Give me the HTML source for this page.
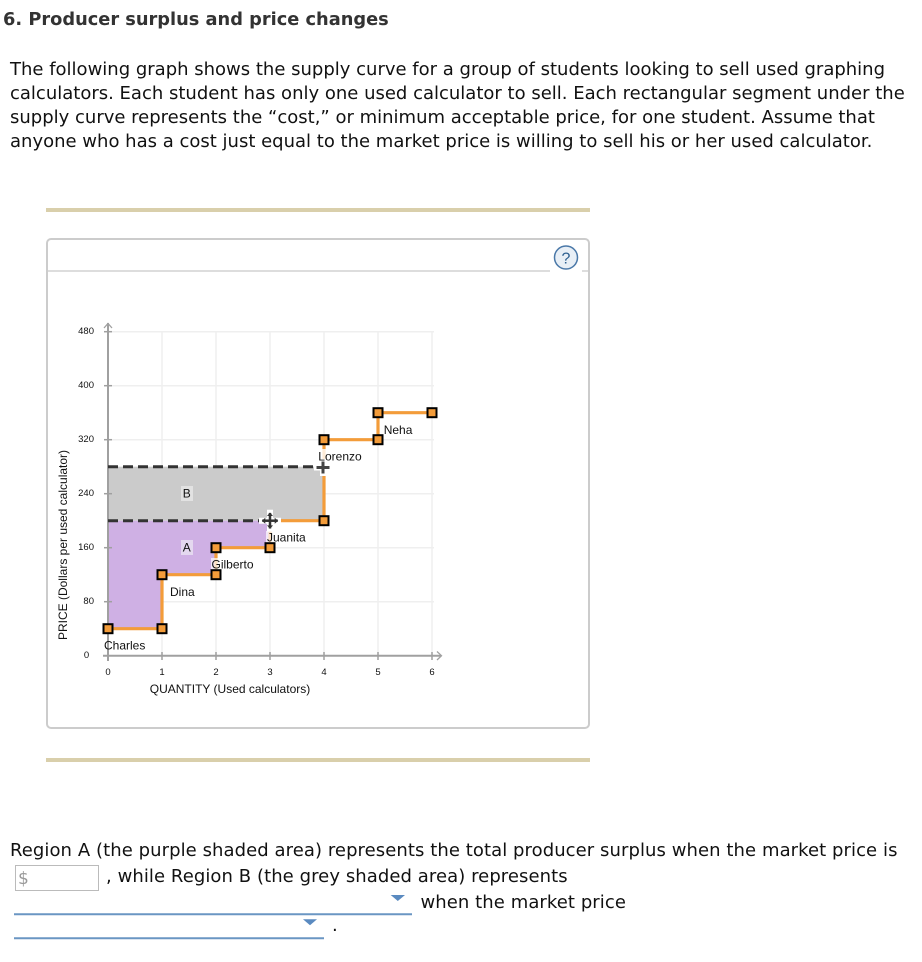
<!DOCTYPE html>
<html>
<head>
<meta charset="utf-8">
<style>
html,body{margin:0;padding:0;background:#fff;}
body{width:922px;height:962px;position:relative;overflow:hidden;font-family:"DejaVu Sans","Liberation Sans",sans-serif;color:#111;}
.t{position:absolute;white-space:nowrap;}
.title{left:3px;top:11px;font-size:17.8px;line-height:17.8px;font-weight:bold;color:#333;}
.p{left:10px;font-size:18px;line-height:24px;}
.q{letter-spacing:0.07px;}
svg{position:absolute;left:0;top:0;}
</style>
</head>
<body>
<div class="t title">6. Producer surplus and price changes</div>
<div class="t p" style="top:57.8px">The following graph shows the supply curve for a group of students looking to sell used graphing</div>
<div class="t p" style="top:81.8px">calculators. Each student has only one used calculator to sell. Each rectangular segment under the</div>
<div class="t p" style="top:105.8px">supply curve represents the “cost,” or minimum acceptable price, for one student. Assume that</div>
<div class="t p" style="top:129.8px">anyone who has a cost just equal to the market price is willing to sell his or her used calculator.</div>

<svg width="922" height="962" viewBox="0 0 922 962" xmlns="http://www.w3.org/2000/svg">
  <!-- tan bars -->
  <rect x="46" y="208" width="544" height="4" fill="#d9cfab"/>
  <rect x="46" y="758" width="544" height="4" fill="#d9cfab"/>
  <!-- panel -->
  <rect x="47" y="239" width="542" height="489" rx="4" ry="4" fill="#fff" stroke="#cccccc" stroke-width="2"/>
  <line x1="48" y1="271" x2="550" y2="271" stroke="#dddddd" stroke-width="2"/>
  <line x1="582" y1="271" x2="588" y2="271" stroke="#dddddd" stroke-width="2"/>
  <!-- help icon -->
  <circle cx="566" cy="257.5" r="11.5" fill="#e8eff6" stroke="#4a78a8" stroke-width="1.5"/>
  <text x="566" y="263.5" text-anchor="middle" font-family="Liberation Sans, sans-serif" font-size="16" fill="#2d5f8f">?</text>

  <!-- grid -->
  <g stroke="#efefef" stroke-width="1.5">
    <line x1="108" y1="331.7" x2="434" y2="331.7"/>
    <line x1="108" y1="385.7" x2="434" y2="385.7"/>
    <line x1="108" y1="439.7" x2="434" y2="439.7"/>
    <line x1="108" y1="493.7" x2="434" y2="493.7"/>
    <line x1="108" y1="547.7" x2="434" y2="547.7"/>
    <line x1="108" y1="601.7" x2="434" y2="601.7"/>
    <line x1="162" y1="331.7" x2="162" y2="655.7"/>
    <line x1="216" y1="331.7" x2="216" y2="655.7"/>
    <line x1="270" y1="331.7" x2="270" y2="655.7"/>
    <line x1="324" y1="331.7" x2="324" y2="655.7"/>
    <line x1="378" y1="331.7" x2="378" y2="655.7"/>
    <line x1="432" y1="331.7" x2="432" y2="655.7"/>
  </g>

  <!-- regions -->
  <rect x="108" y="466.7" width="216" height="54" fill="#cbcbcb"/>
  <polygon points="108,520.7 270,520.7 270,547.7 216,547.7 216,574.7 162,574.7 162,628.7 108,628.7" fill="#cfb0e4"/>

  <!-- axes -->
  <g stroke="#a0a0a0" stroke-width="2" fill="none">
    <line x1="108" y1="661" x2="108" y2="323"/>
    <polyline points="104,328 108,323.5 112,328" stroke-width="1.3"/>
    <line x1="103" y1="655.7" x2="441" y2="655.7"/>
    <polyline points="437,651.5 441.5,655.7 437,660" stroke-width="1.3"/>
  </g>
  <g stroke="#a0a0a0" stroke-width="1.5">
    <line x1="104" y1="331.7" x2="112" y2="331.7"/>
    <line x1="104" y1="385.7" x2="112" y2="385.7"/>
    <line x1="104" y1="439.7" x2="112" y2="439.7"/>
    <line x1="104" y1="493.7" x2="112" y2="493.7"/>
    <line x1="104" y1="547.7" x2="112" y2="547.7"/>
    <line x1="104" y1="601.7" x2="112" y2="601.7"/>
    <line x1="108" y1="652" x2="108" y2="660"/>
    <line x1="162" y1="652" x2="162" y2="660"/>
    <line x1="216" y1="652" x2="216" y2="660"/>
    <line x1="270" y1="652" x2="270" y2="660"/>
    <line x1="324" y1="652" x2="324" y2="660"/>
    <line x1="378" y1="652" x2="378" y2="660"/>
    <line x1="432" y1="652" x2="432" y2="660"/>
  </g>

  <!-- tick labels -->
  <g font-family="Liberation Sans, sans-serif" font-size="9.5" fill="#111" dominant-baseline="central">
    <text x="94" y="331.7" text-anchor="end">480</text>
    <text x="94" y="385.7" text-anchor="end">400</text>
    <text x="94" y="439.7" text-anchor="end">320</text>
    <text x="94" y="493.7" text-anchor="end">240</text>
    <text x="94" y="547.7" text-anchor="end">160</text>
    <text x="94" y="601.7" text-anchor="end">80</text>
    <text x="86.5" y="655.7" text-anchor="middle">0</text>
    <text x="108" y="672.7" text-anchor="middle">0</text>
    <text x="162" y="672.7" text-anchor="middle">1</text>
    <text x="216" y="672.7" text-anchor="middle">2</text>
    <text x="270" y="672.7" text-anchor="middle">3</text>
    <text x="324" y="672.7" text-anchor="middle">4</text>
    <text x="378" y="672.7" text-anchor="middle">5</text>
    <text x="432" y="672.7" text-anchor="middle">6</text>
  </g>

  <!-- axis titles -->
  <text x="230" y="689" text-anchor="middle" dominant-baseline="central" font-family="Liberation Sans, sans-serif" font-size="12" fill="#111">QUANTITY (Used calculators)</text>
  <text transform="translate(63,545) rotate(-90)" x="0" y="0" text-anchor="middle" dominant-baseline="central" font-family="Liberation Sans, sans-serif" font-size="12" fill="#111">PRICE (Dollars per used calculator)</text>

  <!-- dashed lines -->
  <g stroke="#333" stroke-width="3" stroke-dasharray="10,5">
    <line x1="108" y1="466.7" x2="318" y2="466.7"/>
    <line x1="108" y1="520.7" x2="264" y2="520.7"/>
  </g>

  <!-- supply curve -->
  <polyline points="108,628.7 162,628.7 162,574.7 216,574.7 216,547.7 270,547.7 270,520.7 324,520.7 324,439.7 378,439.7 378,412.7 432,412.7" fill="none" stroke="#f39c3a" stroke-width="3.2"/>

  <!-- label backgrounds -->
  <rect x="181" y="486" width="12" height="15" fill="#e2e2e2"/>
  <rect x="181" y="540" width="12" height="15" fill="#e4d8ef"/>
  <rect x="317" y="449" width="46" height="15" fill="#fff" fill-opacity="0.8"/>
  <rect x="266" y="531" width="42" height="14" fill="#fff" fill-opacity="0.7"/>
  <rect x="211" y="558" width="44" height="14" fill="#fff" fill-opacity="0.7"/>

  <!-- markers -->
  <g fill="#f39c3a" stroke="#000" stroke-width="2">
    <rect x="103.5" y="624.2" width="9" height="9"/>
    <rect x="157.5" y="624.2" width="9" height="9"/>
    <rect x="157.5" y="570.2" width="9" height="9"/>
    <rect x="211.5" y="570.2" width="9" height="9"/>
    <rect x="211.5" y="543.2" width="9" height="9"/>
    <rect x="265.5" y="543.2" width="9" height="9"/>
    <rect x="319.5" y="516.2" width="9" height="9"/>
    <rect x="319.5" y="435.2" width="9" height="9"/>
    <rect x="373.5" y="435.2" width="9" height="9"/>
    <rect x="373.5" y="408.2" width="9" height="9"/>
    <rect x="427.5" y="408.2" width="9" height="9"/>
  </g>

  <!-- move cursor at (270,520.7) -->
  <g stroke-linecap="square">
    <line x1="262" y1="520.7" x2="278" y2="520.7" stroke="#fff" stroke-width="6"/>
    <line x1="270" y1="512.7" x2="270" y2="528.7" stroke="#fff" stroke-width="6"/>
    <line x1="263.5" y1="520.7" x2="276.5" y2="520.7" stroke="#333" stroke-width="2.5"/>
    <line x1="270" y1="514.2" x2="270" y2="527.2" stroke="#333" stroke-width="2.5"/>
  </g>
  <g fill="#333">
    <polygon points="270,512.5 267,516 273,516"/>
    <polygon points="270,528.9 267,525.4 273,525.4"/>
    <polygon points="261.8,520.7 265.3,517.7 265.3,523.7"/>
    <polygon points="278.2,520.7 274.7,517.7 274.7,523.7"/>
  </g>
  <!-- cross at (324,466.7) -->
  <g stroke-linecap="square">
    <line x1="317" y1="467.5" x2="329" y2="467.5" stroke="#fff" stroke-width="6"/>
    <line x1="323" y1="462" x2="323" y2="473" stroke="#fff" stroke-width="6"/>
    <line x1="318" y1="467.5" x2="328" y2="467.5" stroke="#444" stroke-width="3"/>
    <line x1="323" y1="463" x2="323" y2="472" stroke="#444" stroke-width="3"/>
  </g>

  <!-- labels -->
  <g font-family="Liberation Sans, sans-serif" font-size="12" fill="#111" dominant-baseline="central">
    <text x="186.7" y="493.3" text-anchor="middle">B</text>
    <text x="186.7" y="547.7" text-anchor="middle">A</text>
    <text x="104" y="645.7">Charles</text>
    <text x="170" y="592">Dina</text>
    <text x="211.5" y="564.7">Gilberto</text>
    <text x="267" y="537.7">Juanita</text>
    <text x="318.3" y="456.7">Lorenzo</text>
    <text x="383.7" y="430">Neha</text>
  </g>

  <!-- bottom controls -->
  <rect x="15.5" y="865.5" width="83" height="25" fill="#fff" stroke="#bbbbbb" stroke-width="1"/>
  <text x="18" y="884" font-family="DejaVu Sans, sans-serif" font-size="17" fill="#9a9a9a">$</text>
  <line x1="14" y1="914.3" x2="412" y2="914.3" stroke="#6a96c3" stroke-width="2"/>
  <polygon points="390.7,895 405,895 397.8,901" fill="#5a8ac0"/>
  <line x1="14" y1="938.3" x2="324" y2="938.3" stroke="#6a96c3" stroke-width="2"/>
  <polygon points="303,919.3 317,919.3 310,925.3" fill="#5a8ac0"/>
</svg>

<div class="t p q" style="top:839.1px">Region A (the purple shaded area) represents the total producer surplus when the market price is</div>
<div class="t p q" style="top:865.1px;left:106px">, while Region B (the grey shaded area) represents</div>
<div class="t p q" style="top:891.1px;left:420.5px">when the market price</div>
<div class="t p" style="top:914px;left:332px">.</div>
</body>
</html>
